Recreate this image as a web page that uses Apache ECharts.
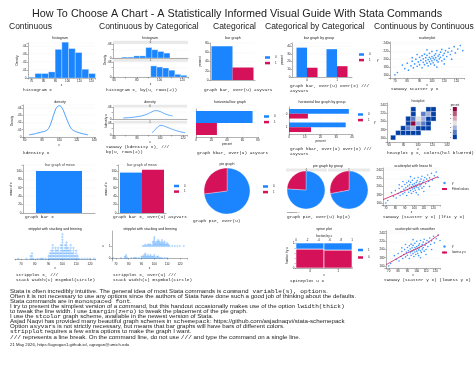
<!DOCTYPE html>
<html>
<head>
<meta charset="utf-8">
<script src="https://cdn.jsdelivr.net/npm/echarts@6/dist/echarts.min.js"></script>
<style>
html, body { margin: 0; padding: 0; background: #fff; }
#main { width: 474px; height: 366px; }
</style>
</head>
<body>
<div id="main"></div>
<script>
const SANS = '"Liberation Sans", Arial, Helvetica, sans-serif';
const MONO = '"Liberation Mono", "Courier New", monospace';
const BLUE = '#1a85ff';
const RED = '#d41159';
const INK = '#222';

const pctU = [73, 27];            // graph bar, over(u)
const pctU0ByX = [38, 36];        // u = 0 within x = 0, 1
const pctU1ByX = [12, 14];        // u = 1 within x = 0, 1
const meanX = [100];
const meanXByU = [96, 103];

const histEdges = [67.3, 72.9, 78.5, 84.1, 89.7, 95.3, 100.9, 106.5, 112.1, 117.7, 123.3];
const histDensity = [0.001, 0.0056, 0.0056, 0.0077, 0.036, 0.045, 0.037, 0.032, 0.011, 0.0056];
const histU0Edges = [66.7, 72, 77.3, 82.6, 87.9, 93.2, 98.5, 103.8, 109.1];
const histU0Density = [0.005, 0.005, 0.012, 0.012, 0.06, 0.047, 0.037, 0.028];
const histU1Edges = [92.2, 97.5, 102.8, 108.1, 113.4, 118.7, 124];
const histU1Density = [0.059, 0.053, 0.048, 0.036, 0.014, 0.009];

const densX = [65, 70, 75, 80, 85, 88, 91, 94, 97, 100, 103, 106, 109, 112, 115, 120, 125, 133];
const densY = [.003, .004, .0055, .007, .009, .013, .022, .033, .041, .043, .040, .032, .023, .015, .010, .007, .005, .003];
const densU0X = [68, 75, 80, 85, 90, 93, 96, 99, 102, 105, 108, 111];
const densU0Y = [.007, .011, .016, .024, .038, .050, .058, .055, .045, .034, .026, .022];
const densU1X = [93, 95, 97, 99, 101, 103, 106, 109, 112, 115, 118, 122];
const densU1Y = [.016, .030, .048, .062, .067, .064, .055, .045, .036, .028, .022, .016];

const scatterXY = [[72,166],[76,185],[78,176],[80,190],[81,172],[83,183],[84,195],[85,178],[86,188],[87,200],
  [88,182],[89,193],[90,205],[90,186],[91,197],[92,178],[92,209],[93,192],[93,201],[94,186],[94,213],[95,196],
  [95,204],[96,190],[96,210],[97,199],[97,183],[98,205],[98,194],[98,215],[99,201],[99,188],[100,207],[100,196],
  [100,220],[101,203],[101,191],[102,210],[102,199],[102,185],[103,214],[103,204],[104,197],[104,222],[105,208],
  [105,193],[106,212],[106,201],[107,218],[107,205],[108,196],[108,225],[109,210],[110,215],[110,200],[111,222],
  [112,207],[113,218],[114,228],[115,212],[116,221],[118,232],[119,216],[121,226],[123,235],[125,222],[88,212],
  [96,224],[104,180],[110,188],[84,204],[116,200],[70,160]];
const lfitX = [67, 125];
const lfitY = [168, 224];
const lowessX = [67, 75, 85, 95, 100, 105, 110, 115, 120, 124];
const lowessY = [163, 173, 186, 197, 202, 208, 214, 222, 230, 236];

// heatplot: rows bottom -> top, columns left -> right (percent)
const heatX0 = 62, heatDX = 7, heatY0 = 155, heatDY = 11.5;
const heatPct = [
  [1, 0, 0, 0, 0, 0, 0, 0, 0],
  [0, 1, 1, 1, 1, 1, 0, 0, 0],
  [0, 0, 1, 2, 3, 1, 1, 1, 0],
  [0, 0, 0, 1, 7, 3, 2, 1, 0],
  [0, 0, 0, 1, 2, 4, 3, 1, 1],
  [0, 0, 0, 0, 1, 0, 2, 3, 1],
  [0, 0, 0, 0, 1, 0, 0, 1, 1]
];
const heatColors = ['#023fa5', '#5b7bc4', '#a6b2dc', '#e2e2e2', '#d9a5b3', '#b65a78', '#8e063b'];

// stripplot counts per unit bin [x, n]
const stripU0 = [[68,1],[74,1],[77,2],[78,3],[79,1],[82,1],[84,1],[85,1],[86,1],[88,1],[90,2],[91,2],[92,3],
  [93,4],[94,2],[95,3],[96,2],[97,3],[98,2],[99,2],[100,3],[101,1],[102,2],[103,2],[104,1],[105,1],[106,1],[108,1],[110,1]];
const stripU1 = [[91,1],[92,1],[93,2],[94,1],[95,2],[96,2],[97,2],[98,1],[99,4],[100,7],[101,3],[102,4],[103,5],
  [104,4],[105,3],[106,5],[107,3],[108,4],[109,2],[110,3],[111,2],[112,1],[114,1],[116,1],[118,1],[120,1],[123,1]];

// spine plot
const spineWidth = [0.5, 0.5];   // share of x = 0, 1
const spineU1 = [0.24, 0.28];    // fraction u = 1 within x

// ---- builders ----
const grids = [], xAxis = [], yAxis = [], series = [], legend = [], graphic = [];

function ax(o) {
  const base = {
    axisLine: { show: true, lineStyle: { color: '#666', width: 0.5 } },
    axisTick: { show: true, length: 1.5, lineStyle: { color: '#666', width: 0.5 } },
    axisLabel: { fontSize: 3, color: INK, margin: 1.5, fontFamily: SANS },
    splitLine: { show: false },
    nameTextStyle: { fontSize: 3, color: INK, fontFamily: SANS },
    nameLocation: 'middle'
  };
  const out = Object.assign({}, base, o);
  ['axisLine', 'axisTick', 'axisLabel', 'splitLine', 'nameTextStyle'].forEach(k => {
    if (o[k]) out[k] = Object.assign({}, base[k], o[k]);
  });
  return out;
}

function addGrid(l, t, w, h, xo, yo) {
  const gi = grids.length;
  grids.push({ left: l, top: t, width: w, height: h });
  xAxis.push(ax(Object.assign({ gridIndex: gi }, xo)));
  yAxis.push(ax(Object.assign({ gridIndex: gi }, yo)));
  return { g: gi, x: xAxis.length - 1, y: yAxis.length - 1 };
}

function tick(step) {
  return v => {
    const r = v / step;
    if (Math.abs(r - Math.round(r)) > 1e-6) return '';
    return String(+v.toFixed(6)).replace(/^0\./, '.');
  };
}

const grid1 = { show: true, lineStyle: { color: '#eee', width: 0.4 } };

function rectSeries(a, rows, fill, lw) {
  return {
    type: 'custom', xAxisIndex: a.x, yAxisIndex: a.y, data: rows,
    encode: { x: [0, 1], y: [2, 3] },
    renderItem: (params, api) => {
      const p = api.coord([api.value(0), api.value(3)]);
      const q = api.coord([api.value(1), api.value(2)]);
      return { type: 'rect', shape: { x: p[0], y: p[1], width: q[0] - p[0], height: q[1] - p[1] },
        style: { fill: fill(api), stroke: '#fff', lineWidth: lw || 0.3 } };
    }
  };
}

function histRows(edges, dens) {
  return dens.map((d, k) => [edges[k], edges[k + 1], 0, d]);
}

function T(x, y, text, size, o) {
  o = o || {};
  graphic.push({
    type: 'text', x: x, y: y, rotation: o.rot || 0, silent: true,
    style: {
      text: text, fill: o.color || INK, fontSize: size, fontFamily: o.font || SANS,
      fontWeight: o.weight || 'normal', align: o.align || 'left', verticalAlign: 'middle', rich: o.rich
    }
  });
}
const title = (x, y, s) => T(x, y, s, 3.6, { align: 'center' });
const cmd = (x, y, s) => T(x, y, s, 4.4, { font: MONO });

function strip(x, y, w, h, s) {
  graphic.push({ type: 'rect', shape: { x: x, y: y, width: w, height: h }, style: { fill: '#e9e9e9' }, silent: true });
  T(x + w / 2, y + h / 2, s, 2.6, { align: 'center' });
}

function addLegend(left, top, items, gap) {
  legend.push({
    left: left, top: top, orient: 'vertical', selectedMode: false, padding: 0,
    itemWidth: 5, itemHeight: 2.5, itemGap: gap || 2.6,
    textStyle: { fontSize: 3, color: INK, fontFamily: SANS },
    data: items.map(it => Object.assign({ name: it[0] }, it[1] ? { itemStyle: { color: it[1] } } : {}, it[2] ? { icon: it[2] } : {}))
  });
}

function barPair(a, v0, v1, w) {
  series.push({ type: 'bar', name: '0', xAxisIndex: a.x, yAxisIndex: a.y, data: v0, barWidth: w, barGap: '0%', itemStyle: { color: BLUE } });
  series.push({ type: 'bar', name: '1', xAxisIndex: a.x, yAxisIndex: a.y, data: v1, barWidth: w, barGap: '0%', itemStyle: { color: RED } });
}

const blueFill = () => BLUE;

// ---- headings ----
T(237, 14, 'How To Choose A Chart - A Statistically Informed Visual Guide With Stata Commands', 10.8, { align: 'center' });
T(9, 27, 'Continuous', 8.5);
T(99, 27, 'Continuous by Categorical', 8.5);
T(213, 27, 'Categorical', 8.5);
T(265, 27, 'Categorical by Categorical', 8.5);
T(374, 27, 'Continuous by Continuous', 8.5);

// ---- row 1 ----
let a = addGrid(28, 43, 67, 35,
  { type: 'value', min: 67, max: 123, axisLabel: { formatter: tick(10) }, name: 'x', nameGap: 6 },
  { type: 'value', min: 0, max: 0.044, axisLabel: { formatter: tick(0.01) }, name: 'Density', nameGap: 8, splitLine: grid1 });
series.push(rectSeries(a, histRows(histEdges, histDensity), blueFill));
title(60, 38, 'histogram');
cmd(23, 90, 'histogram x');

a = addGrid(113, 44, 75, 14,
  { type: 'value', min: 59, max: 125, axisLabel: { show: false }, axisTick: { show: false } },
  { type: 'value', min: 0, max: 0.08, splitNumber: 2, axisLabel: { formatter: tick(0.04) }, splitLine: grid1 });
series.push(rectSeries(a, histRows(histU0Edges, histU0Density), blueFill));
a = addGrid(113, 62, 75, 15,
  { type: 'value', min: 59, max: 125, axisLabel: { formatter: tick(20) }, name: 'x', nameGap: 5 },
  { type: 'value', min: 0, max: 0.08, splitNumber: 2, axisLabel: { formatter: tick(0.04) }, splitLine: grid1 });
series.push(rectSeries(a, histRows(histU1Edges, histU1Density), blueFill));
strip(113, 40.7, 75, 3.3, '0');
strip(113, 58.3, 75, 3.4, '1');
T(105, 60, 'Density', 3, { align: 'center', rot: Math.PI / 2 });
title(150, 38, 'histogram');
cmd(106, 90, 'histogram x, by(u, rows(2))');

a = addGrid(210, 43, 45, 37,
  { type: 'category', data: ['u'], axisLabel: { show: false }, axisTick: { show: false } },
  { type: 'value', min: 0, max: 80, axisLabel: { formatter: tick(20) }, name: 'percent', nameGap: 6, splitLine: grid1 });
barPair(a, [pctU[0]], [pctU[1]], 21);
addLegend(265, 56, [['0', BLUE, 'rect'], ['1', RED, 'rect']]);
title(233, 38, 'bar graph');
cmd(204, 90, 'graph bar, over(u) asyvars');

a = addGrid(292, 43, 60, 34,
  { type: 'category', data: ['0', '1'], axisTick: { show: false } },
  { type: 'value', min: 0, max: 44, axisLabel: { formatter: tick(10) }, name: 'percent', nameGap: 6, splitLine: grid1 });
barPair(a, pctU0ByX, pctU1ByX, 10.5);
addLegend(359, 53, [['0', BLUE, 'rect'], ['1', RED, 'rect']]);
title(319, 38, 'bar graph by group');
cmd(290, 86, 'graph bar, over(u) over(x) ///');
cmd(290, 90.5, 'asyvars');

a = addGrid(390, 42, 74, 36,
  { type: 'value', min: 66, max: 126, axisLabel: { formatter: tick(10) }, name: 'x', nameGap: 6 },
  { type: 'value', min: 152, max: 244, axisLabel: { formatter: tick(20) }, name: 'y', nameGap: 10, nameRotate: 0, splitLine: grid1 });
series.push({ type: 'scatter', name: 'y', xAxisIndex: a.x, yAxisIndex: a.y, data: scatterXY, symbolSize: 1.7, itemStyle: { color: BLUE, opacity: 0.85 } });
title(427, 38, 'scatterplot');
cmd(391, 89, 'twoway scatter y x');

// ---- row 2 ----
a = addGrid(23, 105, 72, 32,
  { type: 'value', min: 58, max: 141, axisLabel: { formatter: tick(20) }, name: 'x', nameGap: 7 },
  { type: 'value', min: 0, max: 0.0441, axisLabel: { formatter: tick(0.01) }, name: 'Density', nameGap: 9, splitLine: grid1 });
series.push({ type: 'line', xAxisIndex: a.x, yAxisIndex: a.y, data: densX.map((v, k) => [v, densY[k]]), smooth: true, symbol: 'none', lineStyle: { color: BLUE, width: 0.8 } });
title(60, 102, 'density');
cmd(23, 153, 'kdensity x');

a = addGrid(113, 107.5, 74, 11.5,
  { type: 'value', min: 59, max: 123.5, axisLabel: { show: false }, axisTick: { show: false } },
  { type: 'value', min: 0, max: 0.08, splitNumber: 2, axisLabel: { formatter: tick(0.04) }, splitLine: grid1 });
series.push({ type: 'line', xAxisIndex: a.x, yAxisIndex: a.y, data: densU0X.map((v, k) => [v, densU0Y[k]]), smooth: true, symbol: 'none', lineStyle: { color: BLUE, width: 0.7 } });
a = addGrid(113, 123.5, 74, 11.5,
  { type: 'value', min: 59, max: 123.5, axisLabel: { formatter: tick(20) }, name: 'x', nameGap: 5 },
  { type: 'value', min: 0, max: 0.08, splitNumber: 2, axisLabel: { formatter: tick(0.04) }, splitLine: grid1 });
series.push({ type: 'line', xAxisIndex: a.x, yAxisIndex: a.y, data: densU1X.map((v, k) => [v, densU1Y[k]]), smooth: true, symbol: 'none', lineStyle: { color: BLUE, width: 0.7 } });
strip(113, 104.8, 74, 2.7, '0');
strip(113, 120.8, 74, 2.7, '1');
T(106, 121, 'kdensity x', 3, { align: 'center', rot: Math.PI / 2 });
title(150, 102, 'density');
cmd(106, 147, 'twoway (kdensity x), ///');
cmd(106, 151.5, 'by(u, rows(2))');

a = addGrid(196, 109, 62, 28,
  { type: 'value', min: 0, max: 80, axisLabel: { formatter: tick(20) }, name: 'percent', nameGap: 5, splitLine: grid1 },
  { type: 'category', data: ['u'], inverse: true, axisLabel: { show: false }, axisTick: { show: false } });
barPair(a, [pctU[0]], [pctU[1]], 12);
addLegend(264, 115, [['0', BLUE, 'rect'], ['1', RED, 'rect']]);
title(230, 102, 'horizontal bar graph');
cmd(197, 153, 'graph hbar, over(u) asyvars');

a = addGrid(289, 107, 63, 27,
  { type: 'value', min: 0, max: 40, axisLabel: { formatter: tick(10) }, name: 'percent', nameGap: 5, splitLine: grid1 },
  { type: 'category', data: ['0', '1'], inverse: true, axisTick: { show: false } });
barPair(a, pctU0ByX, pctU1ByX, 4.8);
addLegend(358, 113, [['0', BLUE, 'rect'], ['1', RED, 'rect']]);
title(322, 102, 'horizontal bar graph by group');
cmd(290, 149, 'graph hbar, over(u) over(x) ///');
cmd(290, 153.5, 'asyvars');

a = addGrid(387, 103, 62, 39,
  { type: 'value', min: 57, max: 143, axisLabel: { formatter: tick(20) }, name: 'x', nameGap: 5 },
  { type: 'value', min: 150, max: 245, axisLabel: { formatter: tick(20) }, name: 'y', nameGap: 10, nameRotate: 0 });
const heatRows = [];
heatPct.forEach((row, r) => row.forEach((v, c) => {
  if (v > 0) heatRows.push([heatX0 + c * heatDX, heatX0 + (c + 1) * heatDX, heatY0 + r * heatDY, heatY0 + (r + 1) * heatDY, v]);
}));
const heatIdx = series.length;
series.push(rectSeries(a, heatRows, api => api.visual('color')));
T(455, 105, 'percent', 2.6, { align: 'center' });
title(418, 101, 'heatplot');
cmd(387, 153, 'heatplot y x, colors(hcl bluered)');

// ---- row 3 ----
a = addGrid(23, 165, 72, 48,
  { type: 'category', data: ['x'], axisLabel: { show: false }, axisTick: { show: false } },
  { type: 'value', min: 0, max: 114, axisLabel: { formatter: tick(20) }, name: 'mean of x', nameGap: 9, splitLine: grid1 });
series.push({ type: 'bar', xAxisIndex: a.x, yAxisIndex: a.y, data: meanX, barWidth: 46, itemStyle: { color: BLUE } });
title(60, 165, 'bar graph of mean');
cmd(25, 217, 'graph bar x');

a = addGrid(118, 165, 48, 48,
  { type: 'category', data: ['u'], axisLabel: { show: false }, axisTick: { show: false } },
  { type: 'value', min: 0, max: 114, axisLabel: { formatter: tick(20) }, name: 'mean of x', nameGap: 9, splitLine: grid1 });
barPair(a, [meanXByU[0]], [meanXByU[1]], 22);
addLegend(174, 184.5, [['0', BLUE, 'rect'], ['1', RED, 'rect']]);
title(142, 165, 'bar graph of mean');
cmd(113, 217, 'graph bar x, over(u) asyvars');

function pie(cx, cy, r, vals) {
  series.push({
    type: 'pie', center: [cx, cy], radius: r, startAngle: 90, clockwise: true,
    label: { show: false }, labelLine: { show: false }, silent: true,
    itemStyle: { borderColor: '#fff', borderWidth: 0.3 },
    data: [{ name: '0', value: vals[0], itemStyle: { color: BLUE } }, { name: '1', value: vals[1], itemStyle: { color: RED } }]
  });
}
pie(227, 191, 23, pctU);
addLegend(263, 185, [['0', BLUE, 'rect'], ['1', RED, 'rect']]);
title(227, 164, 'pie graph');
cmd(193, 221, 'graph pie, over(u)');

pie(306, 190, 19, [pctU0ByX[0], pctU1ByX[0]]);
pie(349, 190, 19, [pctU0ByX[1], pctU1ByX[1]]);
strip(286, 168.5, 41, 3, '0');
strip(328, 168.5, 42, 3, '1');
T(287, 212, 'Graphs by x', 2.3);
title(328, 165.5, 'pie graph by group');
cmd(287, 217, 'graph pie, over(u) by(x)');

a = addGrid(383, 168, 57, 37,
  { type: 'value', min: 67, max: 127, axisLabel: { formatter: tick(10) }, name: 'x', nameGap: 6 },
  { type: 'value', min: 155, max: 245, axisLabel: { formatter: tick(20) }, splitLine: grid1 });
series.push({ type: 'scatter', name: 'y', xAxisIndex: a.x, yAxisIndex: a.y, data: scatterXY, symbolSize: 1.6, itemStyle: { color: BLUE, opacity: 0.85 } });
series.push({ type: 'line', name: 'Fitted values', xAxisIndex: a.x, yAxisIndex: a.y, data: lfitX.map((v, k) => [v, lfitY[k]]), symbol: 'none', lineStyle: { color: RED, width: 0.8 }, itemStyle: { color: RED } });
addLegend(441, 181.5, [['y', BLUE, 'circle'], ['Fitted values']], 3);
title(413, 165.5, 'scatterplot with linear fit');
cmd(383, 217, 'twoway (scatter y x) (lfit y x)');

// ---- row 4 ----
const stripAll = {};
stripU0.concat(stripU1).forEach(([x, n]) => { stripAll[x] = (stripAll[x] || 0) + n; });
const stripPts = [];
Object.keys(stripAll).forEach(x => { for (let k = 0; k < stripAll[x]; k++) stripPts.push([+x, k]); });
a = addGrid(15, 231, 80, 30,
  { type: 'value', min: 65.7, max: 123.6, axisLabel: { formatter: tick(10) }, name: 'x', nameGap: 6 },
  { type: 'value', min: -0.8, max: 10.2, show: false });
series.push({ type: 'scatter', xAxisIndex: a.x, yAxisIndex: a.y, data: stripPts, symbolSize: 1.5, itemStyle: { color: 'rgba(0,0,0,0)', borderColor: BLUE, borderWidth: 0.4 } });
title(55, 229, 'stripplot with stacking and binning');
cmd(16, 275, 'stripplot x, ///');
cmd(16, 279.5, 'stack width(1) msymbol(circle)');

const stripUPts = [];
[stripU0, stripU1].forEach((list, u) => list.forEach(([x, n]) => { for (let k = 0; k < n; k++) stripUPts.push([x, u + k * 0.125]); }));
a = addGrid(112, 231, 75, 30,
  { type: 'value', min: 67, max: 125.5, axisLabel: { formatter: tick(10) }, name: 'x', nameGap: 6 },
  { type: 'value', min: -0.25, max: 2.25, axisLabel: { customValues: [0, 1], formatter: v => String(v) }, axisTick: { customValues: [0, 1] }, name: 'u', nameGap: 6, nameRotate: 0 });
series.push({ type: 'scatter', xAxisIndex: a.x, yAxisIndex: a.y, data: stripUPts, symbolSize: 1.3, itemStyle: { color: 'rgba(0,0,0,0)', borderColor: BLUE, borderWidth: 0.35 } });
title(150, 229, 'stripplot with stacking and binning');
cmd(113, 275, 'stripplot x, over(u) ///');
cmd(113, 279.5, 'stack width(1) msymbol(circle)');

a = addGrid(296, 243, 56, 25,
  { type: 'value', min: 0, max: 1, position: 'top', axisLabel: { formatter: tick(0.2) }, name: 'fraction by x', nameGap: 5 },
  { type: 'value', min: 0, max: 1, axisLabel: { formatter: tick(0.25) }, name: 'fraction by u', nameGap: 7 });
xAxis.push(ax({ gridIndex: a.g, type: 'value', min: 0, max: 1, position: 'bottom',
  axisLabel: { customValues: [0.25, 0.75], formatter: v => (v < 0.5 ? '0' : '1') }, axisTick: { customValues: [0.25, 0.75] }, name: 'x', nameGap: 5 }));
const spineRows = [];
let left = 0;
spineWidth.forEach((w, k) => {
  spineRows.push([left, left + w, 0, 1 - spineU1[k], 0]);
  spineRows.push([left, left + w, 1 - spineU1[k], 1, 1]);
  left += w;
});
series.push(rectSeries(a, spineRows, api => (api.value(4) === 1 ? BLUE : RED), 0.6));
addLegend(358, 248.5, [['1', BLUE, 'rect'], ['0', RED, 'rect']], 4.5);
T(324, 229, 'spine plot', 3.6, { align: 'center' });
cmd(290, 281, 'spineplot u x');

a = addGrid(386, 231, 54, 37,
  { type: 'value', min: 67, max: 125, axisLabel: { formatter: tick(10) }, name: 'x', nameGap: 5 },
  { type: 'value', min: 155, max: 245, axisLabel: { formatter: tick(20) }, splitLine: grid1 });
series.push({ type: 'scatter', name: 'y', xAxisIndex: a.x, yAxisIndex: a.y, data: scatterXY, symbolSize: 1.6, itemStyle: { color: BLUE, opacity: 0.85 } });
series.push({ type: 'line', name: 'lowess y x', xAxisIndex: a.x, yAxisIndex: a.y, data: lowessX.map((v, k) => [v, lowessY[k]]), smooth: true, symbol: 'none', lineStyle: { color: RED, width: 0.8 }, itemStyle: { color: RED } });
addLegend(441, 245, [['y', BLUE, 'circle'], ['lowess y x']], 3);
title(415, 229, 'scatterplot with smoother');
cmd(384, 280, 'twoway (scatter y x) (lowess y x)');

// ---- notes ----
const NOTE = 6.15;
const rich = { m: { fontFamily: MONO, fontSize: NOTE, fill: INK } };
const notes = [
  'Stata is often incredibly intuitive. The general idea of most Stata commands is {m|command variable(s), options}.',
  'Often it is not necessary to use any options since the authors of Stata have done such a good job of thinking about the defaults.',
  'Stata commands are in {m|monospaced font}.',
  'I try to present the simplest version of a command, but this handout occasionally makes use of the option {m|lwidth(thick)}',
  'to tweak the line width. I use {m|imargin(zero)} to tweak the placement of the pie graph.',
  'I use the {m|stcolor} graph scheme, available in the newest version of Stata.',
  'Asjad Naqvi has provided many beautiful graph schemes in {m|schemepack}: https://github.com/asjadnaqvi/stata-schemepack',
  'Option {m|asyvars} is not strictly necessary, but means that bar graphs will have bars of different colors.',
  '{m|stripplot} requires a few extra options to make the graph I want.',
  '{m|///} represents a line break. On the command line, do not use {m|///} and type the command on a single line.'
];
notes.forEach((s, k) => T(10, 291 + k * 5.1, s, NOTE, { rich: rich }));
T(10, 345, '21 May 2026, https://agrogan1.github.io/, agrogan@umich.edu', 4.3);

const chart = echarts.init(document.getElementById('main'));
chart.setOption({
  backgroundColor: '#fff',
  animation: false,
  textStyle: { fontFamily: SANS },
  grid: grids,
  xAxis: xAxis,
  yAxis: yAxis,
  legend: legend,
  visualMap: [{
    type: 'piecewise', seriesIndex: heatIdx, dimension: 4, left: 450, top: 107,
    orient: 'vertical', itemWidth: 4, itemHeight: 4.6, itemGap: 0, itemSymbol: 'rect',
    textGap: 1.5, selectedMode: false, padding: 0,
    textStyle: { fontSize: 2.4, color: INK, fontFamily: SANS },
    pieces: heatColors.map((c, k) => ({ value: k + 1, label: String(k + 1), color: c }))
  }],
  series: series,
  graphic: graphic
});
</script>
</body>
</html>
